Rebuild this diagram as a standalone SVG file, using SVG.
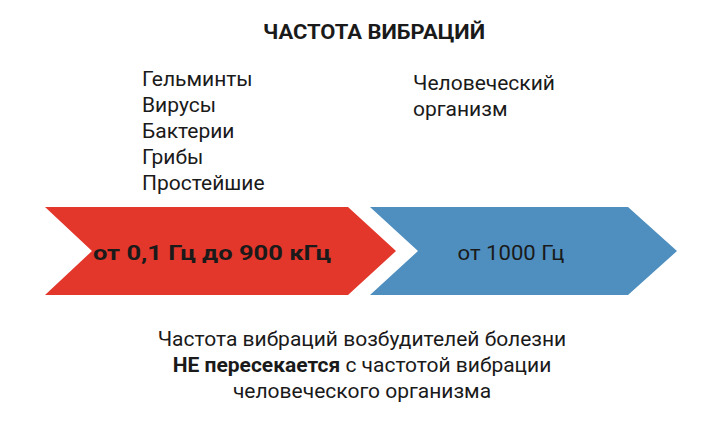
<svg xmlns="http://www.w3.org/2000/svg" width="718" height="427" viewBox="0 0 718 427">
<style>
text{font-family:"Roboto","Liberation Sans",sans-serif;fill:#1a1a1a;font-size:21px}
.b{font-weight:bold}
</style>
<rect width="718" height="427" fill="#fff"/>
<text class="b" x="374" y="39" text-anchor="middle" font-size="21" textLength="222" lengthAdjust="spacingAndGlyphs">ЧАСТОТА ВИБРАЦИЙ</text>
<g id="pathogens">
<text x="142" y="86">Гельминты</text>
<text x="142" y="112">Вирусы</text>
<text x="142" y="138">Бактерии</text>
<text x="142" y="164">Грибы</text>
<text x="142" y="190">Простейшие</text>
</g>
<g id="human">
<text x="413" y="90">Человеческий</text>
<text x="413" y="116">организм</text>
</g>
<g id="red">
<polygon points="45,207 348,207 396,251 348,295 45,295 92,251" fill="#e3372b"/>
<text class="b" x="212" y="260" text-anchor="middle" font-size="22" textLength="238" lengthAdjust="spacingAndGlyphs">от 0,1 Гц до 900 кГц</text>
</g>
<g id="blue">
<polygon points="370,207 628,207 677,251 628,295 370,295 418,251" fill="#4f8fbf"/>
<text x="511" y="260" text-anchor="middle" font-size="22" textLength="107" lengthAdjust="spacingAndGlyphs">от 1000 Гц</text>
</g>
<g id="caption" text-anchor="middle">
<text x="362" y="346">Частота вибраций возбудителей болезни</text>
<text x="362" y="372"><tspan class="b">НЕ пересекается</tspan> с частотой вибрации</text>
<text x="362" y="398">человеческого организма</text>
</g>
<g id="connectors"/>
</svg>
